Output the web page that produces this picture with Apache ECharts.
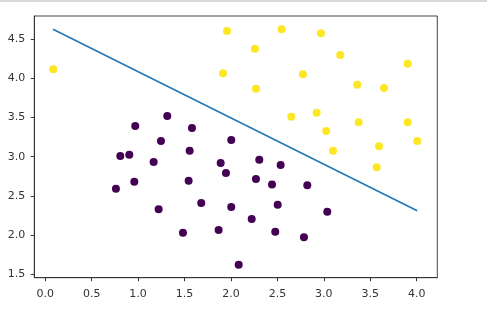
<!DOCTYPE html>
<html>
<head>
<meta charset="utf-8">
<script src="https://cdn.jsdelivr.net/npm/echarts@6/dist/echarts.min.js"></script>
<style>html,body{margin:0;padding:0;background:#fff;}#c{width:487px;height:311px;}</style>
</head>
<body>
<div id="c"></div>
<script>
// Class 0 (purple) points
var class0X = [1.314, 0.969, 1.580, 1.246, 2.003, 1.555, 0.808, 0.905, 1.167, 1.889, 1.946, 0.959, 0.761, 1.544, 1.680, 1.221, 2.003, 1.483, 1.867, 2.083, 2.223, 2.305, 2.535, 2.269, 2.442, 2.822, 2.503, 3.037, 2.477, 2.786];
var class0Y = [3.518, 3.391, 3.365, 3.200, 3.212, 3.076, 3.009, 3.025, 2.933, 2.920, 2.793, 2.682, 2.593, 2.695, 2.411, 2.331, 2.360, 2.033, 2.067, 1.626, 2.207, 2.962, 2.894, 2.716, 2.648, 2.636, 2.389, 2.300, 2.046, 1.975];
// Class 1 (yellow) points
var class1X = [0.086, 1.957, 1.914, 2.546, 2.969, 2.258, 3.177, 3.903, 2.775, 2.269, 3.360, 3.648, 2.650, 2.923, 3.375, 3.903, 3.026, 4.006, 3.099, 3.594, 3.569];
var class1Y = [4.112, 4.599, 4.061, 4.621, 4.570, 4.374, 4.294, 4.183, 4.048, 3.865, 3.916, 3.874, 3.509, 3.560, 3.437, 3.437, 3.327, 3.200, 3.076, 3.132, 2.865];
// Decision boundary line
var lineX = [0.083, 4.006];
var lineY = [4.621, 2.313];
// Tick labels
var xTicks = [0.0, 0.5, 1.0, 1.5, 2.0, 2.5, 3.0, 3.5, 4.0];
var yTicks = [1.5, 2.0, 2.5, 3.0, 3.5, 4.0, 4.5];

function zip(a, b) { return a.map(function (v, i) { return [v, b[i]]; }); }

var chart = echarts.init(document.getElementById('c'), null, { renderer: 'canvas' });
function axisCommon(margin) {
  return {
    type: 'value',
    splitLine: { show: false },
    axisLine: { show: true, onZero: false, lineStyle: { color: '#333', width: 1 } },
    axisTick: { show: true, length: 3.5, lineStyle: { color: '#333', width: 1 } },
    axisLabel: {
      color: '#333', fontSize: 11, fontFamily: 'DejaVu Sans', margin: margin,
      formatter: function (v) { return Number(v).toFixed(1); }
    }
  };
}
chart.setOption({
  animation: false,
  backgroundColor: '#fff',
  grid: { left: 34.3, right: 49.7, top: 16, bottom: 33.3, show: true, borderColor: '#444', borderWidth: 1, backgroundColor: 'transparent' },
  xAxis: echarts.util.merge({
    min: -0.118, max: 4.222,
    axisTick: { customValues: xTicks },
    axisLabel: { customValues: xTicks }
  }, axisCommon(11), false),
  yAxis: echarts.util.merge({
    min: 1.461, max: 4.79,
    axisTick: { customValues: yTicks },
    axisLabel: { customValues: yTicks }
  }, axisCommon(9), false),
  graphic: [{
    type: 'line', shape: { x1: 0, y1: 1, x2: 487, y2: 1 },
    style: { stroke: '#d9d9d9', lineWidth: 2 }, silent: true
  }],
  series: [
    { type: 'scatter', data: zip(class0X, class0Y), symbolSize: 8, itemStyle: { color: '#440154', opacity: 1 }, z: 2 },
    { type: 'scatter', data: zip(class1X, class1Y), symbolSize: 8, itemStyle: { color: '#fde725', opacity: 1 }, z: 2 },
    { type: 'line', data: zip(lineX, lineY), showSymbol: false, lineStyle: { color: '#1f77b4', width: 1.5 }, z: 3 }
  ]
});
</script>
</body>
</html>
